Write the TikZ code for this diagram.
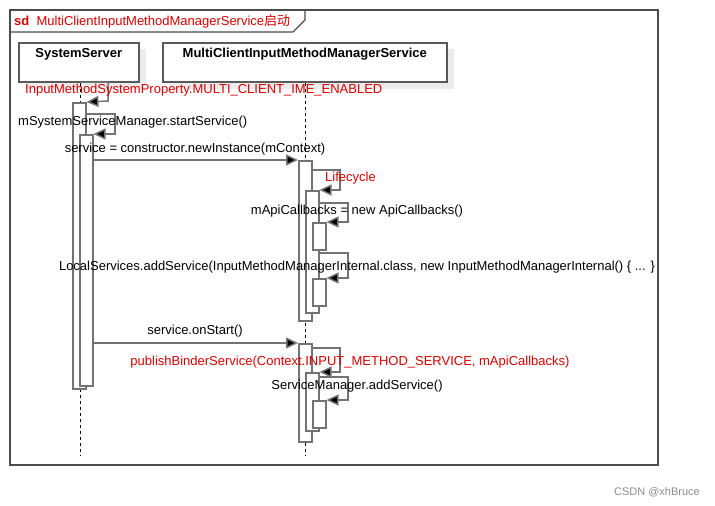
\documentclass[tikz,border=0pt]{standalone}
\usepackage{fontspec}
\setmainfont{Liberation Sans}
\newfontfamily\cjk{Noto Sans CJK SC}
\usetikzlibrary{arrows.meta}
\usetikzlibrary{positioning}
\tikzstyle{frame} = [draw=black!70, line width=1.2pt]
\tikzstyle{actor} = [rectangle, draw=black!65, line width=1.5pt, fill=white, minimum width=120pt, minimum height=39pt, text depth=19pt, font=\fontsize{13}{15}\selectfont\bfseries]
\tikzstyle{shade} = [fill=black!8]
\tikzstyle{life} = [dashed, line width=0.8pt]
\tikzstyle{bar} = [rectangle, draw=black!55, line width=1.5pt, fill=white, minimum width=13pt, anchor=north west, inner sep=0pt]
\tikzstyle{msg} = [draw=black!55, line width=1.5pt, -{Triangle[length=12pt,width=11pt,fill=black]}]
\tikzstyle{lbl} = [font=\fontsize{13}{15}\selectfont, inner sep=0pt]
\tikzstyle{red} = [text=red!85!black]

\begin{document}
\begin{tikzpicture}[x=1pt, y=-1pt]
        \useasboundingbox (0,0) rectangle (715,506);
        % frame and title tab
        \draw [frame] (10,10) rectangle (658,465);
        \draw [frame] (10,32) -- (293,32) -- (305,20) -- (305,10);
        \node (title) [lbl, red, anchor=west] at (14,21) {\textbf{sd}\ \ MultiClientInputMethodManagerService{\cjk 启动}};

        % lifelines
        \fill [shade] (26,49) rectangle (146,89);
        \fill [shade] (170,49) rectangle (454,89);
        \node (sys) [actor, anchor=north west] at (18,42) {SystemServer};
        \node (imms) [actor, anchor=north west, minimum width=284pt] at (162,42) {MultiClientInputMethodManagerService};
        \coordinate (sysEnd) at (80,455);
        \coordinate (immsEnd) at (305,455);
        \draw [life] (sys.south -| sysEnd) -- (sysEnd);
        \draw [life] (imms.south -| immsEnd) -- (immsEnd);

        % activation bars
        \node (s1) [bar, minimum height=286pt] at (72,102) {};
        \node (s2) [bar, minimum height=251pt] at (79,134) {};
        \node (m1) [bar, minimum height=160pt] at (298,160) {};
        \node (m2) [bar, minimum height=122pt] at (305,190) {};
        \node (m3) [bar, minimum height=27pt] at (312,222) {};
        \node (m4) [bar, minimum height=27pt] at (312,278) {};
        \node (m5) [bar, minimum height=98pt] at (298,343) {};
        \node (m6) [bar, minimum height=58pt] at (305,372) {};
        \node (m7) [bar, minimum height=27pt] at (312,400) {};

        % messages
        \draw [msg] (80,82) -- (108,82) -- (108,101) -- (s1.north east);
        \node [lbl, red, anchor=west] at (25,90) {InputMethodSystemProperty.MULTI\_CLIENT\_IME\_ENABLED};
        \draw [msg] (s1.east |- 0,114) -- (115,114) -- (115,134) -- (s2.north east);
        \node [lbl, anchor=west] at (18,122) {mSystemServiceManager.startService()};
        \draw [msg] (s2.east |- 0,160) -- (m1.north west);
        \node [lbl] at (195,149) {service = constructor.newInstance(mContext)};
        \draw [msg] (m1.east |- 0,170) -- (340,170) -- (340,190) -- (m2.north east);
        \node [lbl, red, anchor=west] at (325,178) {Lifecycle};
        \draw [msg] (m2.east |- 0,203) -- (348,203) -- (348,222) -- (m3.north east);
        \node [lbl] at (357,211) {mApiCallbacks = new ApiCallbacks()};
        \draw [msg] (m2.east |- 0,253) -- (348,253) -- (348,278) -- (m4.north east);
        \node [lbl] at (357,267) {LocalServices.addService(InputMethodManagerInternal.class, new InputMethodManagerInternal() \{ ... \}};
        \draw [msg] (s2.east |- 0,343) -- (m5.north west);
        \node [lbl] at (195,331) {service.onStart()};
        \draw [msg] (m5.east |- 0,348) -- (340,348) -- (340,372) -- (m6.north east);
        \node [lbl, red] at (350,362) {publishBinderService(Context.INPUT\_METHOD\_SERVICE, mApiCallbacks)};
        \draw [msg] (m6.east |- 0,377) -- (348,377) -- (348,400) -- (m7.north east);
        \node [lbl] at (357,386) {ServiceManager.addService()};

        \node (mark) [lbl, text=black!45, anchor=east, font=\fontsize{11}{13}\selectfont] at (700,492) {CSDN @xhBruce};
    \end{tikzpicture}
\end{document}
